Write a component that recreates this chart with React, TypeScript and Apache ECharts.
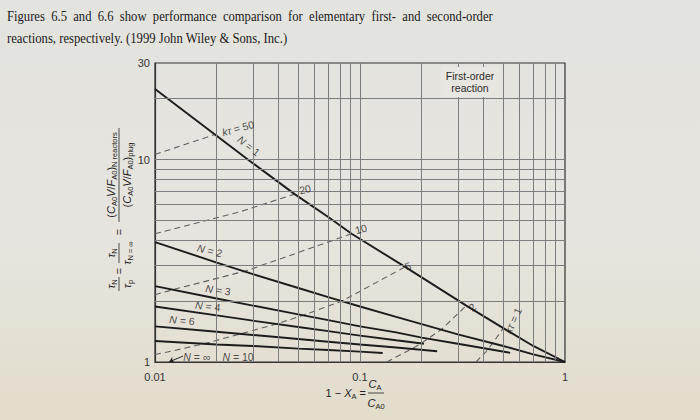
import React, { useEffect, useRef } from "react";
import * as echarts from "echarts";

// ---------- text ----------
const CAPTION_1 =
  "Figures 6.5 and 6.6 show performance comparison for elementary first- and second-order";
const CAPTION_2 = "reactions, respectively. (1999 John Wiley & Sons, Inc.)";
const BOX_TEXT = "First-order\nreaction";

// ---------- axes ----------
const xMin = 0.01;
const xMax = 1;
const yMin = 1;
const yMax = 30;
const xGridValues = [0.02, 0.03, 0.04, 0.05, 0.06, 0.07, 0.08, 0.09, 0.1, 0.2, 0.3, 0.4, 0.5, 0.6, 0.7, 0.8, 0.9];
const yGridValues = [2, 3, 4, 5, 6, 7, 8, 9, 10, 20];

// ---------- N tanks in series (solid), [1 - XA, tauN / tauP] ----------
const curveN1 = [[0.01, 22.3], [0.0196, 13.3], [0.03, 9.6], [0.048, 6.75], [0.07, 5.2], [0.091, 4.3], [0.166, 2.95], [0.33, 1.9], [0.5, 1.47], [0.7, 1.2], [1, 1]];
const curveN2 = [[0.01, 3.91], [0.02, 3.1], [0.03, 2.72], [0.05, 2.32], [0.07, 2.09], [0.1, 1.88], [0.15, 1.67], [0.2, 1.54], [0.3, 1.37], [0.5, 1.2], [0.7, 1.09], [1, 1]];
const curveN3 = [[0.01, 2.37], [0.02, 2.06], [0.03, 1.9], [0.05, 1.72], [0.07, 1.61], [0.1, 1.5], [0.15, 1.4], [0.2, 1.32], [0.3, 1.23], [0.54, 1.11]];
const curveN4 = [[0.01, 1.88], [0.02, 1.7], [0.03, 1.6], [0.05, 1.49], [0.07, 1.42], [0.1, 1.35], [0.15, 1.28], [0.205, 1.23]];
const curveN6 = [[0.01, 1.5], [0.02, 1.41], [0.03, 1.36], [0.05, 1.3], [0.07, 1.26], [0.1, 1.22], [0.15, 1.18], [0.238, 1.13]];
const curveN10 = [[0.01, 1.27], [0.02, 1.22], [0.03, 1.2], [0.05, 1.165], [0.07, 1.147], [0.1, 1.125], [0.129, 1.108]];

// ---------- constant k·tau (dashed) ----------
const ktau50 = [[0.01, 10.6], [0.0196, 13.3]];
const ktau20 = [[0.01, 4.3], [0.0264, 5.55], [0.048, 6.75]];
const ktau10 = [[0.01, 2.15], [0.0123, 2.28], [0.0278, 2.82], [0.091, 4.3]];
const ktau5 = [[0.01, 1.09], [0.0115, 1.12], [0.0173, 1.23], [0.0263, 1.38], [0.039, 1.54], [0.0527, 1.7], [0.0816, 2.0], [0.166, 2.95]];
const ktau2 = [[0.135, 1.0], [0.1615, 1.1], [0.178, 1.16], [0.1975, 1.23], [0.216, 1.31], [0.25, 1.45], [0.33, 1.9]];
const ktau1 = [[0.368, 1.0], [0.3855, 1.05], [0.3966, 1.08], [0.41, 1.12], [0.422, 1.16], [0.444, 1.24], [0.5, 1.47]];

// ---------- curve labels: text and anchor in data units ----------
const curveLabels = [
  { text: "{i|kτ} = 50", at: [0.0254, 14.3], angle: 15 },
  { text: "{i|N} = 1", at: [0.0287, 11.7], angle: -38 },
  { text: "20", at: [0.054, 7.1], angle: 12 },
  { text: "10", at: [0.101, 4.55], angle: 15 },
  { text: "5", at: [0.171, 2.98], angle: 20 },
  { text: "2", at: [0.352, 1.87], angle: 40 },
  { text: "{i|kτ} = 1", at: [0.56, 1.6], angle: 65 },
  { text: "{i|N} = 2", at: [0.0185, 3.54], angle: -14 },
  { text: "{i|N} = 3", at: [0.0203, 2.26], angle: -8 },
  { text: "{i|N} = 4", at: [0.0181, 1.89], angle: -6 },
  { text: "{i|N} = 6", at: [0.01354, 1.6], angle: -5 },
  { text: "{i|N} = ∞", at: [0.016, 1.058], angle: 0 },
  { text: "{i|N} = 10", at: [0.0254, 1.058], angle: 0 },
];
const infArrow = [[0.0137, 1.07], [0.0117, 1.0]];

export default function App() {
  const ref = useRef<HTMLDivElement>(null);

  useEffect(() => {
    const chart = echarts.init(ref.current!, null, { renderer: "svg" });
    const BG = "#e6e5df";
    const ink = "#232323";
    const gridColor = "#7b7d7f";
    const sans = "Liberation Sans";
    const serif = "Liberation Serif";

    const labelRich = {
      i: { fontStyle: "italic", fontSize: 10.5, fontFamily: sans, color: ink },
    };
    const zRich = {
      i: { fontStyle: "italic", fontSize: 11, fontFamily: sans, fill: ink },
      s: { fontSize: 7.5, fontFamily: sans, fill: ink, padding: [6, 0, 0, 0] },
    };

    const t = (x: number, y: number, text: string) => ({
      type: "text",
      x,
      y,
      style: { text, align: "center", verticalAlign: "middle", fontSize: 11, fontFamily: sans, fill: ink, rich: zRich },
    });
    const bar = (x1: number, x2: number, y = 0) => ({
      type: "line",
      shape: { x1, y1: y, x2, y2: y },
      style: { stroke: ink, lineWidth: 0.8 },
    });

    const solid = (name: string, data: number[][]) => ({
      type: "line",
      name,
      data,
      symbol: "none",
      silent: true,
      z: 4,
      lineStyle: { color: "#1c1c1c", width: 1.9 },
    });
    const dashed = (name: string, data: number[][]) => ({
      type: "line",
      name,
      data,
      symbol: "none",
      silent: true,
      z: 3,
      lineStyle: { color: "#606060", width: 1.1, type: [6, 4] },
    });

    const justify = (s: string) => s.split(" ").join("\u00A0 ");

    chart.setOption({
      animation: false,
      backgroundColor: BG,
      grid: {
        left: 155,
        right: 135,
        top: 63,
        bottom: 58,
        show: true,
        borderColor: "#333",
        borderWidth: 1.2,
        backgroundColor: "transparent",
      },
      xAxis: {
        type: "log",
        logBase: 10,
        min: xMin,
        max: xMax,
        axisLine: { show: true, lineStyle: { color: "#333", width: 1.2 } },
        axisTick: { show: false },
        splitLine: { show: false },
        axisLabel: {
          color: "#333",
          fontFamily: sans,
          fontSize: 11,
          margin: 9,
          formatter: (v: number) => String(+Number(v).toPrecision(3)),
        },
      },
      yAxis: {
        type: "log",
        logBase: 10,
        min: yMin,
        max: yMax,
        axisLine: { show: true, lineStyle: { color: "#333", width: 1.2 } },
        axisTick: { show: false },
        splitLine: { show: false },
        axisLabel: {
          color: "#333",
          fontFamily: sans,
          fontSize: 11,
          margin: 5,
          formatter: (v: number) => String(+Number(v).toPrecision(3)),
        },
      },
      series: [
        {
          type: "line",
          data: [[xMin, yMin]],
          symbol: "none",
          silent: true,
          z: 1,
          lineStyle: { opacity: 0 },
          markLine: {
            silent: true,
            symbol: ["none", "none"],
            label: { show: false },
            lineStyle: { color: gridColor, width: 1, type: "solid" },
            emphasis: { disabled: true },
            data: [
              ...xGridValues.map((v) => ({ xAxis: v })),
              ...yGridValues.map((v) => ({ yAxis: v })),
            ],
          },
        },
        dashed("kτ=50", ktau50),
        dashed("kτ=20", ktau20),
        dashed("kτ=10", ktau10),
        dashed("kτ=5", ktau5),
        dashed("kτ=2", ktau2),
        dashed("kτ=1", ktau1),
        solid("N=1", curveN1),
        solid("N=2", curveN2),
        solid("N=3", curveN3),
        solid("N=4", curveN4),
        solid("N=6", curveN6),
        solid("N=10", curveN10),
        {
          type: "scatter",
          symbol: "circle",
          symbolSize: 1,
          silent: true,
          z: 6,
          itemStyle: { color: "rgba(0,0,0,0)" },
          label: {
            show: true,
            position: "inside",
            align: "center",
            verticalAlign: "middle",
            fontSize: 10.5,
            fontFamily: sans,
            color: ink,
            rich: labelRich,
          },
          data: curveLabels.map((l) => ({
            value: l.at,
            label: { formatter: l.text, rotate: l.angle },
          })),
          markLine: {
            silent: true,
            symbol: ["none", "arrow"],
            symbolSize: 5,
            label: { show: false },
            lineStyle: { color: ink, width: 1, type: "solid" },
            data: [[{ coord: infArrow[0] }, { coord: infArrow[1] }]],
          },
        },
      ],
      graphic: [
        {
          type: "rect",
          z: -10,
          silent: true,
          shape: { x: 0, y: 0, width: 700, height: 420 },
          style: {
            fill: new echarts.graphic.LinearGradient(0, 0, 0, 1, [
              { offset: 0, color: "#e3e3df" },
              { offset: 0.6, color: "#e6e4dd" },
              { offset: 1, color: "#e2dccb" },
            ]),
          },
        },
        {
          type: "text",
          x: 7,
          y: 8,
          scaleX: 0.815,
          style: { text: justify(CAPTION_1), fontSize: 15.5, fontFamily: serif, fill: "#1a1a1a", verticalAlign: "top" },
        },
        {
          type: "text",
          x: 7,
          y: 30,
          scaleX: 0.82,
          style: { text: CAPTION_2, fontSize: 15.5, fontFamily: serif, fill: "#1a1a1a", verticalAlign: "top" },
        },
        {
          type: "rect",
          z: 100,
          silent: true,
          shape: { x: 441, y: 67, width: 58, height: 30 },
          style: { fill: "#e7e6e0" },
        },
        {
          type: "text",
          z: 101,
          x: 470,
          y: 82,
          style: {
            text: BOX_TEXT,
            align: "center",
            verticalAlign: "middle",
            fontSize: 10.5,
            lineHeight: 12,
            fontFamily: sans,
            fill: "#2a2a2a",
          },
        },
        {
          type: "group",
          x: 119,
          y: 292,
          rotation: Math.PI / 2,
          children: [
            t(8, -8, "{i|τ}{s|N}"),
            bar(1, 15),
            t(8, 8, "{i|τ}{s|p}"),
            t(21, 0, "="),
            t(39, -8, "{i|τ}{s|N}"),
            bar(29, 49),
            t(39, 8, "{i|τ}{s|N = ∞}"),
            t(60, 0, "="),
            t(117, -8, "({i|C}{s|A0}{i|V}/{i|F}{s|A0}){s|N reactors}"),
            bar(70, 164),
            t(117, 8, "({i|C}{s|A0}{i|V}/{i|F}{s|A0}){s|plug}"),
          ],
        },
        {
          type: "group",
          x: 0,
          y: 0,
          children: [
            {
              type: "text",
              x: 366,
              y: 393,
              style: {
                text: "1 − {i|X}{s|A} =",
                align: "right",
                verticalAlign: "middle",
                fontSize: 11,
                fontFamily: sans,
                fill: ink,
                rich: zRich,
              },
            },
            t(375, 384, "{i|C}{s|A}"),
            bar(368, 384, 393),
            t(376, 403, "{i|C}{s|A0}"),
          ],
        },
      ],
    });

    return () => chart.dispose();
  }, []);

  return (
    <div
      ref={ref}
      style={{ position: "fixed", left: 0, top: 0, width: 700, height: 420 }}
    />
  );
}
